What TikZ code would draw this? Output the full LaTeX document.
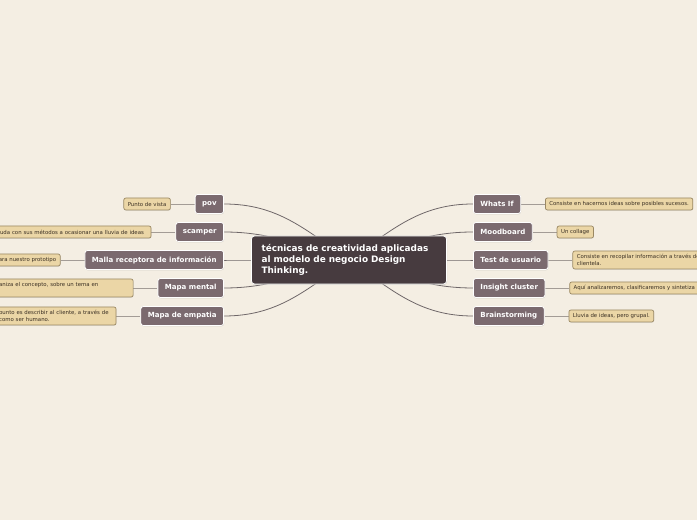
\documentclass[tikz,border=0pt]{standalone}
\usepackage{fontspec}
\setmainfont{DejaVu Sans}
\usetikzlibrary{positioning, shadows}

\definecolor{cBack}{HTML}{F4EEE3}
\definecolor{cCenter}{HTML}{473B3F}
\definecolor{cMain}{HTML}{7B6A6F}
\definecolor{cLeaf}{HTML}{EBD6A6}
\definecolor{cLeafLine}{HTML}{9A8863}
\definecolor{cLink}{HTML}{6F6769}
\definecolor{cLeafLink}{HTML}{A39C96}
\definecolor{cLeafText}{HTML}{3B3024}

\pgfdeclarelayer{background}
\pgfsetlayers{background,main}

\begin{document}
\begin{tikzpicture}[x=1pt, y=1pt, node distance=24pt,
    centerbox/.style={draw=white, line width=0.8pt, fill=cCenter, rounded corners=3pt,
        text=white, font=\bfseries\fontsize{8.9}{11}\selectfont, align=left,
        text width=175pt, inner xsep=10pt, minimum height=48pt,
        drop shadow={opacity=0.3, shadow xshift=0.5pt, shadow yshift=-0.9pt}},
    mainbox/.style={draw=white, line width=0.8pt, fill=cMain, rounded corners=2.5pt,
        text=white, font=\bfseries\fontsize{7.05}{8}\selectfont,
        inner xsep=7pt, inner ysep=0pt, minimum height=19pt,
        drop shadow={opacity=0.25, shadow xshift=0.4pt, shadow yshift=-0.8pt}},
    leafbox/.style={draw=cLeafLine, line width=0.7pt, fill=cLeaf, rounded corners=2pt,
        text=cLeafText, font=\fontsize{5.4}{7.5}\selectfont, align=left,
        inner xsep=4pt, inner ysep=0pt, minimum height=12pt,
        drop shadow={opacity=0.2, shadow xshift=0.4pt, shadow yshift=-0.6pt}},
    link/.style={draw=cLink, line width=0.8pt},
    leaflink/.style={draw=cLeafLink, line width=0.8pt}]
    %背景
    \begin{pgfonlayer}{background}
        \fill[cBack] (0,0) rectangle (697,520);
    \end{pgfonlayer}
    \useasboundingbox (0,0) rectangle (697,520);

    %中心主題
    \node[centerbox] (nCenter) at (349,260)
        {técnicas de creatividad aplicadas\\al modelo de negocio Design\\Thinking.};

    %左側分支
    \node[mainbox, anchor=east] (nPov) at (224,316) {pov};
    \node[mainbox, anchor=east] (nScamper) at (224,288) {scamper};
    \node[mainbox, anchor=east] (nMalla) at (224,260) {Malla receptora de información};
    \node[mainbox, anchor=east] (nMental) at (224,232) {Mapa mental};
    \node[mainbox, anchor=east] (nEmpatia) at (224,204) {Mapa de empatia};

    %右側分支
    \node[mainbox, anchor=west] (nWhats) at (473,316) {Whats If};
    \node[mainbox, anchor=west] (nMood) at (473,288) {Moodboard};
    \node[mainbox, anchor=west] (nTest) at (473,260) {Test de usuario};
    \node[mainbox, anchor=west] (nInsight) at (473,232) {Insight cluster};
    \node[mainbox, anchor=west] (nBrain) at (473,204) {Brainstorming};

    %說明
    \node[leafbox, left=of nPov] (lPov) {Punto de vista};
    \node[leafbox, left=of nScamper, text width=147pt] (lScamper) {uda con sus métodos a ocasionar una lluvia de ideas};
    \node[leafbox, left=of nMalla] (lMalla) {ara nuestro prototipo};
    \node[leafbox, left=of nMental, minimum height=18pt, text width=130pt] (lMental) {aniza el concepto, sobre un tema en\\\mbox{}};
    \node[leafbox, left=of nEmpatia, minimum height=18pt, text width=113pt] (lEmpatia) {punto es describir al cliente, a través de\\como ser humano.};

    \node[leafbox, right=of nWhats] (lWhats) {Consiste en hacernos ideas sobre posibles sucesos.};
    \node[leafbox, right=of nMood] (lMood) {Un collage};
    \node[leafbox, right=of nTest, minimum height=18pt] (lTest) {Consiste en recopilar información a través de\\clientela.};
    \node[leafbox, right=of nInsight] (lInsight) {Aquí analizaremos, clasificaremos y sintetiza};
    \node[leafbox, right=of nBrain] (lBrain) {Lluvia de ideas, pero grupal.};

    %連線
    \begin{pgfonlayer}{background}
        \foreach \n/\l/\a in {nPov/lPov/145, nScamper/lScamper/165, nMalla/lMalla/180,
            nMental/lMental/195, nEmpatia/lEmpatia/215}
        {
            \draw[link] (nCenter.center) to[out=\a, in=0] (\n.east);
            \draw[leaflink] (\n.west) -- (\l.east);
        };
        \foreach \n/\l/\a in {nWhats/lWhats/35, nMood/lMood/15, nTest/lTest/0,
            nInsight/lInsight/-15, nBrain/lBrain/-35}
        {
            \draw[link] (nCenter.center) to[out=\a, in=180] (\n.west);
            \draw[leaflink] (\n.east) -- (\l.west);
        };
    \end{pgfonlayer}
\end{tikzpicture}
\end{document}
